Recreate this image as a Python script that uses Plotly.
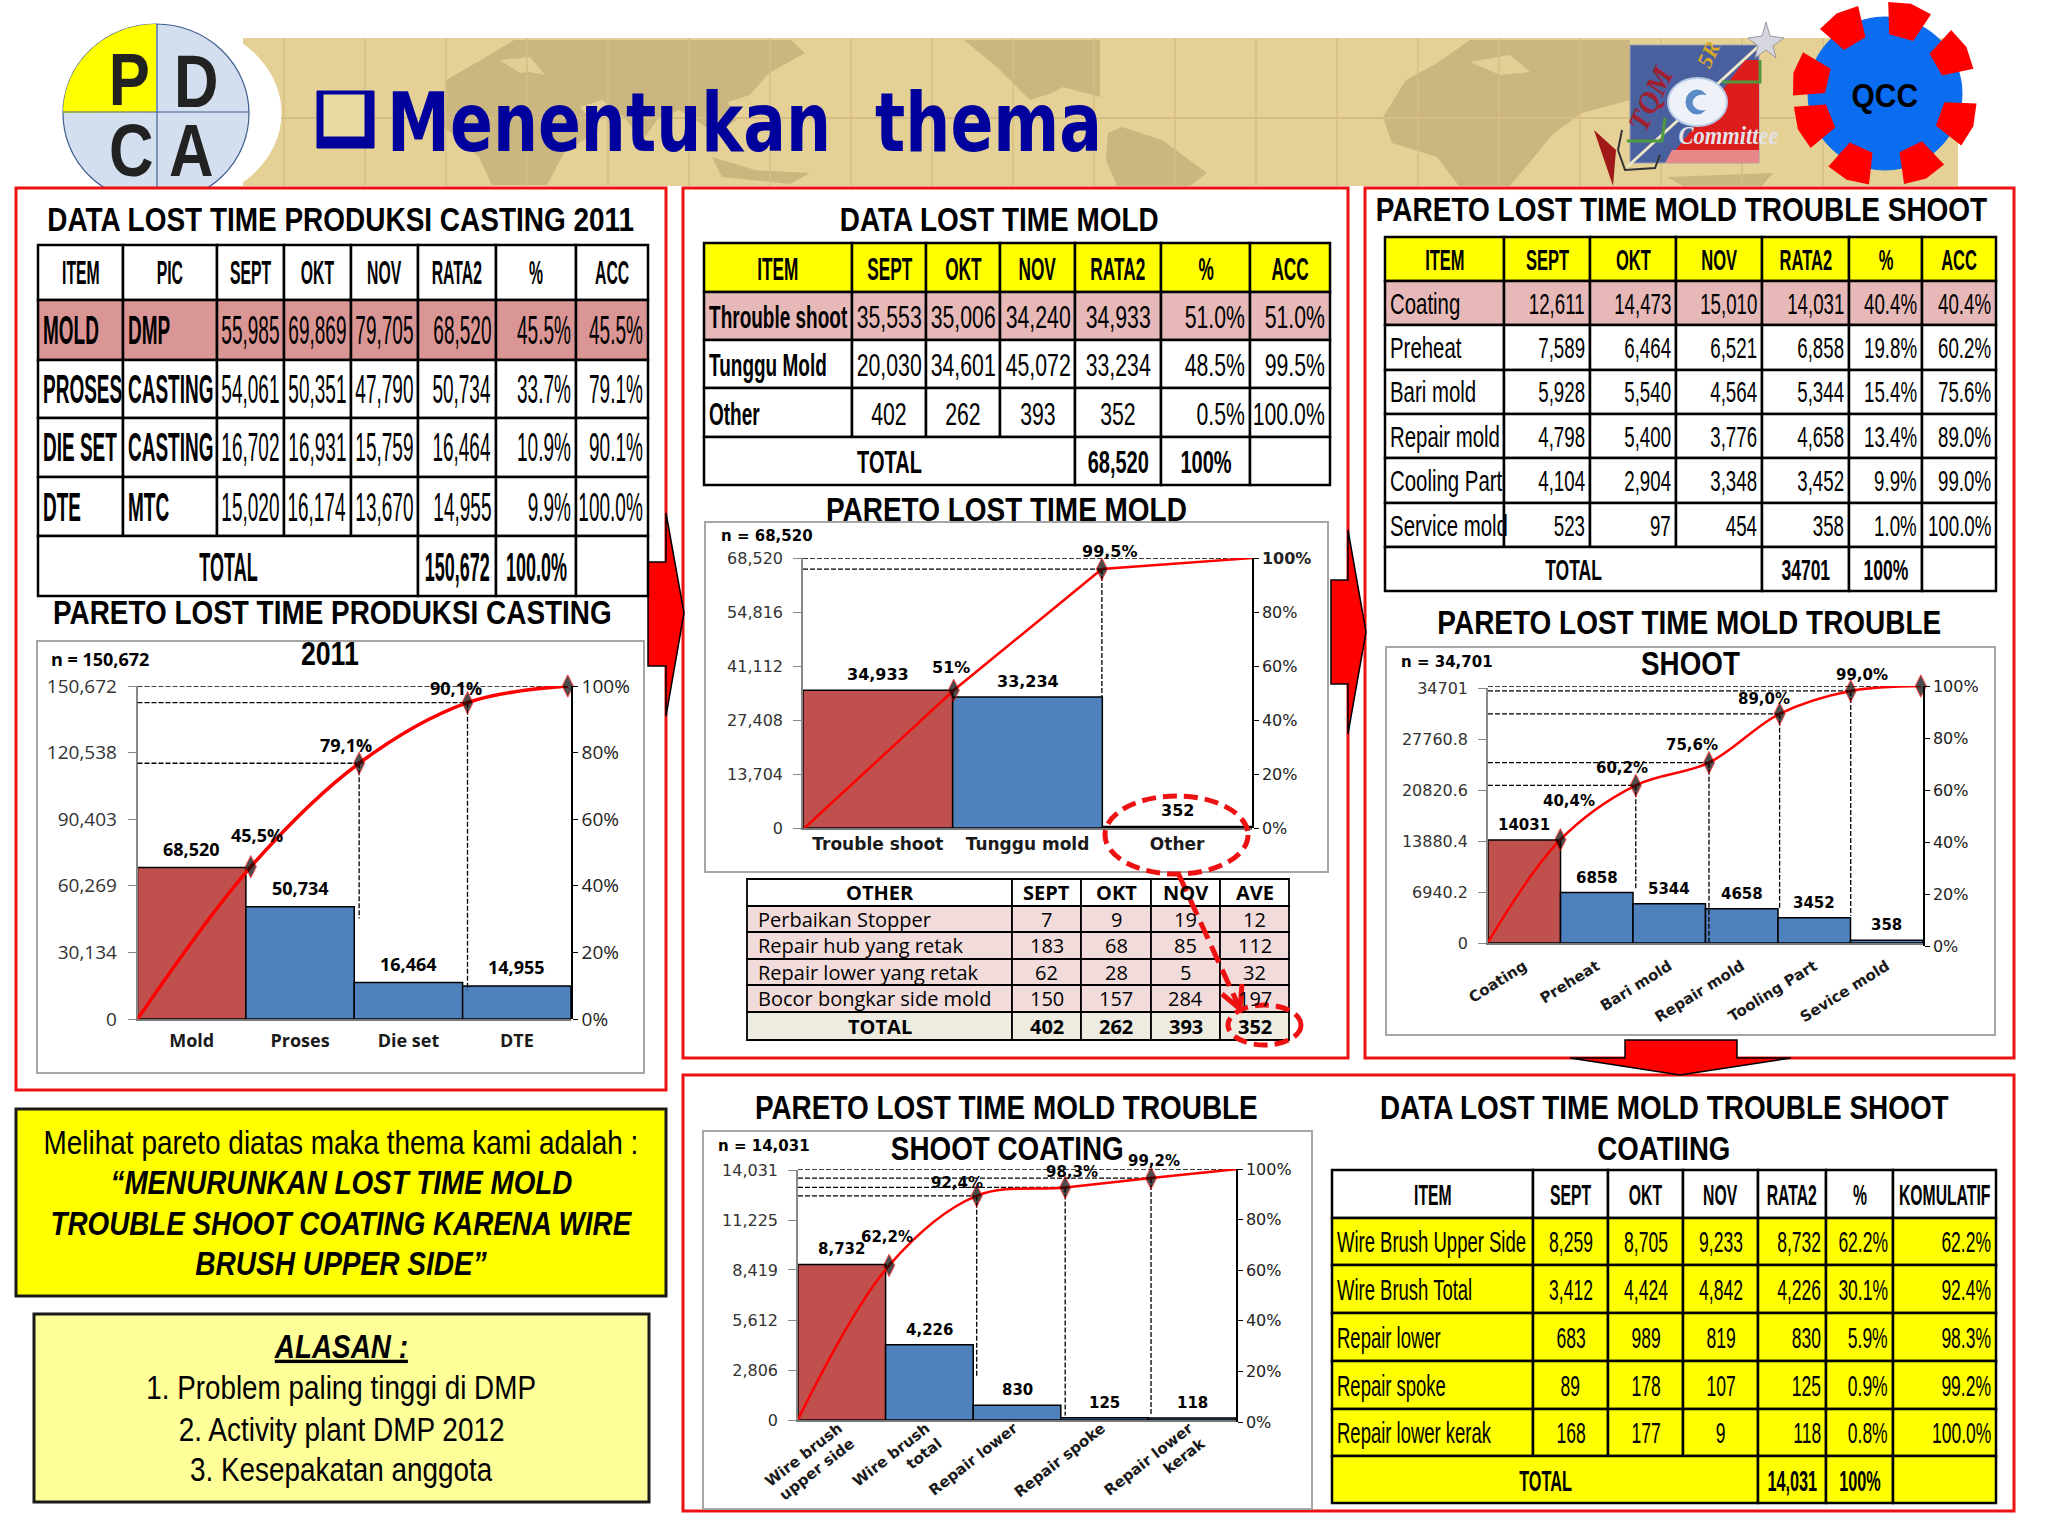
import json
import math
import plotly.graph_objects as go

W, H = 2048, 1536
ARIAL = "Liberation Sans"
OPEN = "Open Sans"
DEJA = "DejaVu Sans"

# pareto 1
p1_cats = ["Mold", "Proses", "Die set", "DTE"]
p1_vals = [68520, 50734, 16464, 14955]
p1_bar_text = ["68,520", "50,734", "16,464", "14,955"]
p1_ticks = [0, 30134, 60269, 90403, 120538, 150672]
p1_tick_text = ["0", "30,134", "60,269", "90,403", "120,538", "150,672"]
p1_cum_x = [-0.5, 0.545, 1.545, 2.545, 3.47]
p1_cum = [0, 45.7, 76.8, 95, 100]
p1_cum_text = ["45,5%", "79,1%", "90,1%"]
p1_drop = [30.2, 8.6]

# pareto 2
p2_cats = ["Trouble shoot", "Tunggu mold", "Other"]
p2_vals = [34933, 33234, 352]
p2_bar_text = ["34,933", "33,234", "352"]
p2_ticks = [0, 13704, 27408, 41112, 54816, 68520]
p2_tick_text = ["0", "13,704", "27,408", "41,112", "54,816", "68,520"]
p2_cum_x = [-0.49, 0.507, 1.497, 2.507]
p2_cum = [0, 51, 95.9, 100]
p2_cum_text = ["51%", "99,5%"]
p2_drop = [48.6]

# pareto 3
p3_cats = ["Coating", "Preheat", "Bari mold", "Repair mold", "Tooling Part", "Sevice mold"]
p3_vals = [14031, 6858, 5344, 4658, 3452, 358]
p3_bar_text = ["14031", "6858", "5344", "4658", "3452", "358"]
p3_ticks = [0, 6940.2, 13880.4, 20820.6, 27760.8, 34701]
p3_tick_text = ["0", "6940.2", "13880.4", "20820.6", "27760.8", "34701"]
p3_cum_x = [-0.5, 0.498, 1.538, 2.548, 3.522, 4.503, 5.47]
p3_cum = [1.5, 40.9, 61.8, 70.5, 89.3, 98.1, 100]
p3_cum_text = ["40,4%", "60,2%", "75,6%", "89,0%", "99,0%"]
p3_drop = [21.7, 1.5, 14, 11.5]

# pareto 4
p4_cats = ["Wire brush<br>upper side", "Wire brush<br>total", "Repair lower", "Repair spoke", "Repair lower<br>kerak"]
p4_vals = [8732, 4226, 830, 125, 118]
p4_bar_text = ["8,732", "4,226", "830", "125", "118"]
p4_ticks = [0, 2806, 5612, 8419, 11225, 14031]
p4_tick_text = ["0", "2,806", "5,612", "8,419", "11,225", "14,031"]
p4_cum_x = [-0.5, 0.54, 1.54, 2.55, 3.53, 4.52]
p4_cum = [1, 61.9, 89.4, 92.7, 96.4, 100]
p4_cum_text = ["62,2%", "92,4%", "98,3%", "99,2%"]
p4_drop = [17.9, 2.6, 2.6]

pct_ticks = [0, 20, 40, 60, 80, 100]
pct_tick_text = ["0%", "20%", "40%", "60%", "80%", "100%"]

# tables
t1_head = ["ITEM", "PIC", "SEPT", "OKT", "NOV", "RATA2", "%", "ACC"]
t1_rows = [
    ["MOLD", "DMP", "55,985", "69,869", "79,705", "68,520", "45.5%", "45.5%"],
    ["PROSES", "CASTING", "54,061", "50,351", "47,790", "50,734", "33.7%", "79.1%"],
    ["DIE SET", "CASTING", "16,702", "16,931", "15,759", "16,464", "10.9%", "90.1%"],
    ["DTE", "MTC", "15,020", "16,174", "13,670", "14,955", "9.9%", "100.0%"],
]
t1_total = ["TOTAL", "150,672", "100.0%", ""]

t2_head = ["ITEM", "SEPT", "OKT", "NOV", "RATA2", "%", "ACC"]
t2_rows = [
    ["Throuble shoot", "35,553", "35,006", "34,240", "34,933", "51.0%", "51.0%"],
    ["Tunggu Mold", "20,030", "34,601", "45,072", "33,234", "48.5%", "99.5%"],
    ["Other", "402", "262", "393", "352", "0.5%", "100.0%"],
]
t2_total = ["TOTAL", "68,520", "100%", ""]

t3_head = ["ITEM", "SEPT", "OKT", "NOV", "RATA2", "%", "ACC"]
t3_rows = [
    ["Coating", "12,611", "14,473", "15,010", "14,031", "40.4%", "40.4%"],
    ["Preheat", "7,589", "6,464", "6,521", "6,858", "19.8%", "60.2%"],
    ["Bari mold", "5,928", "5,540", "4,564", "5,344", "15.4%", "75.6%"],
    ["Repair mold", "4,798", "5,400", "3,776", "4,658", "13.4%", "89.0%"],
    ["Cooling Part", "4,104", "2,904", "3,348", "3,452", "9.9%", "99.0%"],
    ["Service mold", "523", "97", "454", "358", "1.0%", "100.0%"],
]
t3_total = ["TOTAL", "34701", "100%", ""]

t4_head = ["ITEM", "SEPT", "OKT", "NOV", "RATA2", "%", "KOMULATIF"]
t4_rows = [
    ["Wire Brush Upper Side", "8,259", "8,705", "9,233", "8,732", "62.2%", "62.2%"],
    ["Wire Brush Total", "3,412", "4,424", "4,842", "4,226", "30.1%", "92.4%"],
    ["Repair lower", "683", "989", "819", "830", "5.9%", "98.3%"],
    ["Repair spoke", "89", "178", "107", "125", "0.9%", "99.2%"],
    ["Repair lower kerak", "168", "177", "9", "118", "0.8%", "100.0%"],
]
t4_total = ["TOTAL", "14,031", "100%", ""]

other_head = ["OTHER", "SEPT", "OKT", "NOV", "AVE"]
other_rows = [
    ["Perbaikan Stopper", "7", "9", "19", "12"],
    ["Repair hub yang retak", "183", "68", "85", "112"],
    ["Repair lower yang retak", "62", "28", "5", "32"],
    ["Bocor bongkar side mold", "150", "157", "284", "197"],
]
other_total = ["TOTAL", "402", "262", "393", "352"]

shapes = []
anns = []
stretch = {}  # annotation index -> condensed look of the original slide text


def X(x):
    return x / W


def Y(y):
    return 1 - y / H


def rect(x0, y0, x1, y1, fill="rgba(0,0,0,0)", line="black", lw=1.5, layer="below"):
    shapes.append(dict(type="rect", xref="paper", yref="paper", x0=X(x0), x1=X(x1), y0=Y(y0), y1=Y(y1),
                       fillcolor=fill, line=dict(color=line, width=lw), layer=layer))


def ellipse(x0, y0, x1, y1, fill="rgba(0,0,0,0)", line="black", lw=1, dash="solid", layer="below"):
    shapes.append(dict(type="circle", xref="paper", yref="paper", x0=X(x0), x1=X(x1), y0=Y(y0), y1=Y(y1),
                       fillcolor=fill, line=dict(color=line, width=lw, dash=dash), layer=layer))


def poly(pts, fill, line="rgba(0,0,0,0)", lw=0, layer="below", close=True, dash="solid"):
    d = "M" + " L".join(f"{X(a):.5f},{Y(b):.5f}" for a, b in pts) + (" Z" if close else "")
    shapes.append(dict(type="path", xref="paper", yref="paper", path=d, fillcolor=fill,
                       line=dict(color=line, width=lw, dash=dash), layer=layer))


def text(x, y, s, size, font=ARIAL, color="black", anchor="center", bold=False, sx=None, sy=None, w=None, angle=0):
    if bold:
        s = f"<b>{s}</b>"
    if sx or sy or w:
        stretch[len(anns)] = dict(sx=sx or 1, sy=sy or 1, w=w, anchor=anchor)
    anns.append(dict(x=X(x), y=Y(y), xref="paper", yref="paper", text=s, showarrow=False, textangle=angle,
                     xanchor=anchor, yanchor="middle", font=dict(size=size, family=font, color=color)))


def draw_table(cols, rows_y, head, body, total=None, spans=None, size=25, head_size=25, head_fill="white",
               row_fills=None, aligns=None, total_fill=None, font=ARIAL, lw=2, pad=3,
               body_st=(None, None), head_st=(None, None), total_st=(None, None), first_sx=None, bold_cols=0):
    nrow = len(body)
    for c in range(len(head)):
        rect(cols[c], rows_y[0], cols[c + 1], rows_y[1], fill=head_fill, lw=lw)
        text((cols[c] + cols[c + 1]) / 2, (rows_y[0] + rows_y[1]) / 2, head[c], head_size, font=font, bold=True,
             sx=head_st[0], sy=head_st[1])
    for r in range(nrow):
        for c in range(len(head)):
            rect(cols[c], rows_y[r + 1], cols[c + 1], rows_y[r + 2], fill=row_fills[r], lw=lw)
            ym = (rows_y[r + 1] + rows_y[r + 2]) / 2
            al = aligns[c]
            if al == "left":
                xt = cols[c] + pad
            elif al == "right":
                xt = cols[c + 1] - pad
            else:
                xt = (cols[c] + cols[c + 1]) / 2
            text(xt, ym, body[r][c], size, font=font, anchor=al, bold=c < bold_cols,
                 sx=(first_sx if c == 0 and first_sx else body_st[0]), sy=body_st[1])
    if total:
        for s, (a, b) in zip(total, spans):
            rect(cols[a], rows_y[nrow + 1], cols[b], rows_y[nrow + 2], fill=total_fill or "white", lw=lw)
            if s:
                text((cols[a] + cols[b]) / 2, (rows_y[nrow + 1] + rows_y[nrow + 2]) / 2, s, head_size, font=font, bold=True,
                     sx=total_st[0], sy=total_st[1])


# banner
rect(243, 38, 1958, 186, fill="#E5D195", line="rgba(0,0,0,0)", lw=0)
land = [
    # old world, left tile
    [(446, 80), (481, 60), (514, 40), (791, 40), (805, 53), (769, 73), (750, 95), (728, 102), (736, 120), (723, 130), (706, 127),
     (679, 110), (657, 120), (643, 140), (624, 117), (602, 100), (580, 107), (599, 130), (564, 153), (547, 185), (492, 185), (479, 157), (444, 127)],
    # islands and australia, left tile
    [(712, 157), (755, 170), (810, 173), (790, 184), (722, 177)],
    # americas
    [(964, 40), (1100, 40), (1100, 97), (1063, 87), (1052, 93), (1030, 100), (997, 67)],
    [(1108, 133), (1122, 127), (1162, 140), (1207, 173), (1190, 186), (1117, 186), (1106, 160)],
    # old world, right tile
    [(1383, 117), (1406, 80), (1437, 63), (1470, 40), (1630, 40), (1630, 100), (1582, 113), (1554, 133), (1510, 186), (1459, 186),
     (1437, 157), (1392, 143)],
    [(1667, 177), (1773, 173), (1762, 186), (1683, 186)],
]
for blob in land:
    poly(blob, "#CBB680")
poly([(500, 60), (530, 57), (545, 75), (530, 72), (520, 73)], "#E2CF96")
poly([(1470, 62), (1510, 55), (1530, 72), (1500, 75)], "#E2CF96")
for gx in range(284, 1958, 81):
    shapes.append(dict(type="line", xref="paper", yref="paper", x0=X(gx), x1=X(gx), y0=Y(38), y1=Y(186),
                       line=dict(color="#D4BE85", width=1.5), layer="below"))
shapes.append(dict(type="line", xref="paper", yref="paper", x0=X(243), x1=X(1958), y0=Y(118), y1=Y(118),
                   line=dict(color="#D4BE85", width=2), layer="below"))

# pdca logo
ellipse(62, 22, 281, 204, fill="white", line="white")
ellipse(63, 24, 249, 203, fill="#D3DFEE", line="#3F5F8F", lw=1.2)
arc = [(156, 112)] + [(156 + 93 * math.cos(math.radians(a)), 113 + 89 * math.sin(math.radians(a))) for a in range(180, 271, 6)]
poly(arc, "#FFFF00")
shapes.append(dict(type="line", xref="paper", yref="paper", x0=X(157), x1=X(157), y0=Y(24), y1=Y(203), line=dict(color="#3F5F8F", width=1.2), layer="below"))
shapes.append(dict(type="line", xref="paper", yref="paper", x0=X(63), x1=X(249), y0=Y(112), y1=Y(112), line=dict(color="#3F5F8F", width=1.2), layer="below"))
for ch, cx, cy in [("P", 129, 80), ("D", 196, 82), ("C", 131, 151), ("A", 191, 151)]:
    text(cx, cy, ch, 70, color="#222222", bold=True, sx=0.88, sy=1.05)

# header title
rect(317, 91, 374, 148, line="#00009C", lw=1, fill="#00009C")
rect(323, 94, 365, 137, line="#00009C", lw=1, fill="#E9D9A2")
text(385, 122, "<b>Menentukan  thema</b>", 82, font=DEJA, color="#00009C", anchor="left", w=715)

# committee logo
rect(1630, 45, 1759, 163, fill="#4A5F9E", line="#9AA0B8", lw=1)
poly([(1759, 60), (1759, 163), (1665, 163), (1700, 120), (1745, 60)], "#DD1C1C")
poly([(1672, 150), (1759, 150), (1759, 163), (1665, 163)], "#E88888")
poly([(1762, 43), (1627, 167)], "rgba(0,0,0,0)", line="#EDE6C8", lw=3, close=False)
poly([(1760, 60), (1760, 82), (1722, 82)], "rgba(0,0,0,0)", line="#4E9A3C", lw=3, close=False)
poly([(1627, 141), (1662, 141), (1665, 118)], "rgba(0,0,0,0)", line="#4E9A3C", lw=3, close=False)
poly([(1622, 130), (1618, 150), (1625, 170), (1655, 168), (1660, 155)], "rgba(0,0,0,0)", line="#333333", lw=2, close=False)
ellipse(1668, 78, 1727, 126, fill="#EEF2F8", line="#B8CBE6", lw=2)
ellipse(1686, 90, 1708, 114, fill="#5A8AC8", line="#5A8AC8")
ellipse(1693, 95, 1712, 110, fill="#EEF2F8", line="#EEF2F8")
poly([(1766, 22), (1770, 36), (1784, 38), (1773, 46), (1776, 58), (1766, 50), (1755, 58), (1758, 46), (1748, 38), (1762, 36)], "#D6D6E0", line="#999999", lw=1)
poly([(1594, 130), (1613, 186), (1616, 150)], "#A01818")
text(1728, 136, "<i>Committee</i>", 25, font="Liberation Serif", color="#E2E2E8", bold=True, sx=0.9)
text(1650, 98, "<i>TQM</i>", 30, font="Liberation Serif", color="#A02030", bold=True, angle=-65)
text(1708, 54, "<i>5R</i>", 22, font="Liberation Serif", color="#D8A82A", bold=True, angle=-65)

# qcc badge
ellipse(1808, 17, 1962, 170, fill="#0A6CF0", line="#0A6CF0")
for ang in [16, 60, 110, 154, 204, 248, 283, 329]:
    seg = []
    for r, da in [(60, -12), (92, -14), (94, 0), (92, 14), (60, 12)]:
        a = math.radians(ang + da)
        seg.append((1885 + r * math.sin(a), 94 - r * math.cos(a)))
    poly(seg, "#FF0000")
text(1885, 95, "QCC", 34, bold=True, sx=0.88)

# red frames
for fr in [(16, 188, 666, 1090), (683, 188, 1348, 1058), (1365, 188, 2014, 1058), (683, 1075, 2014, 1511)]:
    rect(*fr, fill="white", line="#EE1111", lw=3)

# chart boxes
for bx in [(37, 641, 644, 1073), (705, 522, 1328, 872), (1386, 647, 1995, 1035), (703, 1131, 1312, 1509)]:
    rect(*bx, fill="white", line="#A6A6A6", lw=2)

# big arrows
poly([(648, 562), (666, 562), (666, 513), (684, 613), (666, 716), (666, 666), (648, 666)], "#FF0000", line="black", lw=1.5)
poly([(1331, 580), (1348, 580), (1348, 530), (1366, 632), (1348, 734), (1348, 684), (1331, 684)], "#FF0000", line="black", lw=1.5)
poly([(1625, 1040), (1737, 1040), (1737, 1058), (1791, 1058), (1680, 1075), (1570, 1058), (1625, 1058)], "#FF0000", line="black", lw=1.5)

# section titles
TS = 34
text(340, 219, "DATA LOST TIME PRODUKSI CASTING 2011", TS, bold=True, w=587)
text(332, 612, "PARETO LOST TIME PRODUKSI CASTING", TS, bold=True, w=559)
text(330, 653, "2011", TS, bold=True, w=58)
text(999, 219, "DATA LOST TIME MOLD", TS, bold=True, w=319)
text(1006, 509, "PARETO LOST TIME MOLD", TS, bold=True, w=361)
text(1681, 209, "PARETO LOST TIME MOLD TROUBLE SHOOT", TS, bold=True, w=612)
text(1689, 622, "PARETO LOST TIME MOLD TROUBLE", TS, bold=True, w=504)
text(1690, 663, "SHOOT", TS, bold=True, w=99)
text(1006, 1107, "PARETO LOST TIME MOLD TROUBLE", TS, bold=True, w=503)
text(1007, 1148, "SHOOT COATING", TS, bold=True, w=233)
text(1664, 1107, "DATA LOST TIME MOLD TROUBLE SHOOT", TS, bold=True, w=569)
text(1664, 1148, "COATIING", TS, bold=True, w=133)

# tables
draw_table([38, 123, 217, 284, 351, 418, 496, 576, 648], [245, 300, 360, 418, 477, 536, 596],
           t1_head, t1_rows, t1_total, [(0, 5), (5, 6), (6, 7), (7, 8)],
           row_fills=["#DA9694", "white", "white", "white"],
           aligns=["left", "left", "right", "right", "right", "right", "right", "right"], lw=2.5,
           body_st=(0.76, 1.6), head_st=(0.63, 1.33), total_st=(0.72, 1.65), bold_cols=2)
draw_table([704, 852, 926, 1000, 1075, 1161, 1250, 1330], [243, 292, 340, 388, 437, 485],
           t2_head, t2_rows, t2_total, [(0, 4), (4, 5), (5, 6), (6, 7)], head_fill="#FFFF00",
           row_fills=["#E6B8B7", "white", "white"],
           aligns=["left", "center", "center", "center", "center", "right", "right"], lw=2.5,
           body_st=(0.85, 1.28), head_st=(0.69, 1.28), total_st=(0.8, 1.28), first_sx=0.76, bold_cols=1)
draw_table([1385, 1504, 1590, 1676, 1762, 1849, 1922, 1996], [237, 281, 325, 370, 414, 458, 503, 547, 591],
           t3_head, t3_rows, t3_total, [(0, 4), (4, 5), (5, 6), (6, 7)], size=24, head_fill="#FFFF00",
           row_fills=["#E6B8B7"] + ["white"] * 5,
           aligns=["left", "right", "right", "right", "right", "right", "right"], lw=2.5,
           body_st=(0.78, 1.2), head_st=(0.66, 1.17), total_st=(0.7, 1.17), first_sx=0.85)
draw_table([1332, 1533, 1608, 1683, 1758, 1826, 1893, 1996], [1170, 1218, 1265, 1313, 1361, 1409, 1456, 1503],
           t4_head, t4_rows, t4_total, [(0, 4), (4, 5), (5, 6), (6, 7)], size=24,
           row_fills=["#FFFF00"] * 5, total_fill="#FFFF00",
           aligns=["left", "center", "center", "center", "right", "right", "right"], lw=2.5,
           body_st=(0.73, 1.25), head_st=(0.63, 1.2), total_st=(0.65, 1.2), first_sx=0.77)
draw_table([747, 1012, 1081, 1151, 1220, 1289], [879, 906, 932, 959, 985, 1012, 1040],
           other_head, other_rows, other_total, [(0, 1), (1, 2), (2, 3), (3, 4), (4, 5)], size=20, head_size=20, pad=9,
           row_fills=["#F2DCDB"] * 4, total_fill="#EEECE1", font=OPEN,
           aligns=["left", "center", "center", "center", "center"], lw=1.8)

# text boxes
rect(16, 1109, 666, 1296, fill="#FFFF00", line="#1A1A1A", lw=3)
text(341, 1142, "Melihat pareto diatas maka thema kami adalah :", 31, w=595, sy=1.05)
text(341, 1182, "<b><i>\u201cMENURUNKAN LOST TIME MOLD</i></b>", 31, w=462, sy=1.05)
text(341, 1223, "<b><i>TROUBLE SHOOT COATING KARENA WIRE</i></b>", 31, w=582, sy=1.05)
text(341, 1263, "<b><i>BRUSH UPPER SIDE\u201d</i></b>", 31, w=292, sy=1.05)
rect(34, 1314, 649, 1502, fill="#FFFF99", line="#1A1A1A", lw=3)
text(341, 1346, "<b><i><u>ALASAN :</u></i></b>", 32, w=134, sy=1.05)
text(341, 1387, "1. Problem paling tinggi di DMP", 31, w=390, sy=1.05)
text(341, 1429, "2. Activity plant DMP 2012", 31, w=326, sy=1.05)
text(341, 1469, "3. Kesepakatan anggota", 31, w=303, sy=1.05)

# n labels
text(49, 659, "n = 150,672", 18, font=OPEN, anchor="left", bold=True)
text(719, 536, "n = 68,520", 15, font=DEJA, anchor="left", bold=True)
text(1399, 662, "n = 34,701", 15, font=DEJA, anchor="left", bold=True)
text(716, 1146, "n = 14,031", 15, font=DEJA, anchor="left", bold=True)

fig = go.Figure()
layout_axes = {}


def add_pareto(n, x0, x1, y_top, y_bot, r_top, r_bot, cats, vals, bar_text, ticks, tick_text, cum_x, cum, cum_text,
               drop, offs, font, tick_size, lab_size, lab_up, tick_angle=0, line_shape="spline", lw=3,
               head_bold=False, cat_size=None, cat_standoff=3, cat_shift=0):
    xa, ya, yb = f"x{n}", f"y{n}", f"y{n + 4}"
    nb = len(vals)
    xs = list(range(nb))
    fig.add_trace(go.Bar(x=xs, y=vals, xaxis=xa, yaxis=ya, width=1,
                         marker=dict(color=["#C0504D"] + ["#4F81BD"] * (nb - 1), line=dict(color="black", width=1.5))))
    for i in range(nb):
        anns.append(dict(x=xs[i], y=vals[i], xref=xa, yref=ya, yshift=lab_up, text=f"<b>{bar_text[i]}</b>", showarrow=False,
                         yanchor="middle", font=dict(size=lab_size, family=font, color="black")))
    # dashed guides
    dash = dict(color="black", width=1.3, dash="5px,2px")
    for i in range(2, len(cum)):
        fig.add_trace(go.Scatter(x=[-0.5, cum_x[i]], y=[cum[i], cum[i]], xaxis=xa, yaxis=yb, mode="lines", line=dash, cliponaxis=False))
    for i in range(2, len(cum) - 1):
        fig.add_trace(go.Scatter(x=[cum_x[i], cum_x[i]], y=[cum[i], drop[i - 2]], xaxis=xa, yaxis=yb, mode="lines", line=dash, cliponaxis=False))
    fig.add_trace(go.Scatter(x=cum_x, y=cum, xaxis=xa, yaxis=yb, mode="lines+markers", cliponaxis=False,
                             line=dict(color="#FF0000", width=lw, shape=line_shape),
                             marker=dict(symbol="diamond-tall", color="black", size=[0] + [16] * (len(cum) - 1))))
    for i, lab in enumerate(cum_text):
        anns.append(dict(x=cum_x[i + 1], y=cum[i + 1], xref=xa, yref=yb, xshift=offs[i][0], yshift=offs[i][1],
                         text=f"<b>{lab}</b>", showarrow=False, yanchor="middle",
                         font=dict(size=lab_size, family=font, color="black")))
    xkey = "xaxis" if n == 1 else f"xaxis{n}"
    ykey = "yaxis" if n == 1 else f"yaxis{n}"
    layout_axes[xkey] = dict(domain=[X(x0), X(x1)], range=[-0.5, nb - 0.5], anchor=ya, tickvals=xs, automargin=False,
                             ticktext=[f"<b>{c}</b>" for c in cats], tickangle=tick_angle, ticks="",
                             tickfont=dict(size=cat_size or lab_size, family=font, color="#1A1A1A"), showline=True, linecolor="#777777",
                             linewidth=1.5, showgrid=False, zeroline=False, ticklabelstandoff=cat_standoff, ticklabelshift=cat_shift)
    layout_axes[ykey] = dict(domain=[Y(y_bot), Y(y_top)], range=[0, ticks[-1]], anchor=xa, tickvals=ticks, ticktext=tick_text,
                             tickfont=dict(size=tick_size, family=font, color="#333333"), ticks="outside", ticklen=8, tickcolor="#888888",
                             showline=True, linecolor="#888888", linewidth=1.5, showgrid=False, zeroline=False, automargin=False,
                             ticklabelstandoff=7)
    rtext = list(pct_tick_text)
    if head_bold:
        rtext[-1] = f"<b>{rtext[-1]}</b>"
    layout_axes[f"yaxis{n + 4}"] = dict(domain=[Y(r_bot), Y(r_top)], range=[0, 100], anchor=xa, side="right", tickvals=pct_ticks,
                                        ticktext=rtext, tickfont=dict(size=tick_size, family=font, color="#222222"), ticks="outside",
                                        ticklen=5, tickcolor="black", showline=True, linecolor="black", linewidth=1.5,
                                        showgrid=False, zeroline=False, automargin=False)


add_pareto(1, 137.5, 571, 686, 1019, 686, 1019, p1_cats, p1_vals, p1_bar_text, p1_ticks, p1_tick_text, p1_cum_x, p1_cum,
           p1_cum_text, p1_drop, [(6, 32), (-13, 18), (-12, 15)], OPEN, 19, 18, 19, lw=3.5, cat_standoff=5)
add_pareto(2, 803, 1252, 558, 828, 558, 828, p2_cats, p2_vals, p2_bar_text, p2_ticks, p2_tick_text, p2_cum_x, p2_cum,
           p2_cum_text, p2_drop, [(-3, 23), (8, 18)], DEJA, 16, 16, 16, line_shape="linear", lw=2.5, head_bold=True, cat_size=17, cat_standoff=0)
add_pareto(3, 1488, 1923, 688, 943, 686, 946, p3_cats, p3_vals, p3_bar_text, p3_ticks, p3_tick_text, p3_cum_x, p3_cum,
           p3_cum_text, p3_drop, [(9, 39), (-14, 17), (-17, 18), (-16, 15), (11, 16)], DEJA, 16, 15, 15, tick_angle=-32, lw=2.5, cat_standoff=7)
add_pareto(4, 798, 1236, 1170, 1420, 1169, 1422, p4_cats, p4_vals, p4_bar_text, p4_ticks, p4_tick_text, p4_cum_x, p4_cum,
           p4_cum_text, p4_drop, [(-2, 28), (-20, 13), (7, 15), (3, 17)], DEJA, 16, 15, 15, tick_angle=-38, lw=2.5, cat_standoff=-8, cat_shift=-3)

# red dashed callouts
ellipse(1105, 796, 1248, 874, line="#EE1111", lw=5, dash="14px,7px", layer="above")
ellipse(1228, 1005, 1301, 1045, line="#EE1111", lw=5, dash="14px,7px", layer="above")
poly([(1179, 875), (1240, 1009)], "rgba(0,0,0,0)", line="#EE1111", lw=5, layer="above", close=False, dash="18px,8px")
poly([(1222, 994), (1240, 1009), (1242, 984)], "rgba(0,0,0,0)", line="#EE1111", lw=5, layer="above", close=False)

fig.update_layout(width=W, height=H, margin=dict(l=0, r=0, t=0, b=0), paper_bgcolor="white", plot_bgcolor="rgba(0,0,0,0)",
                  showlegend=False, shapes=shapes, annotations=anns, **layout_axes)

# the slide's type is condensed and tall, no installed font has that, so squeeze the annotations
squeeze = """
document.body.style.margin = '0';
var st = %s;
document.querySelectorAll('g.annotation').forEach(function (g) {
  var e = st[g.getAttribute('data-index')];
  if (!e) return;
  var t = g.querySelector('text.annotation-text');
  var b = t.getBBox();
  var sx = e.w ? e.w / b.width : e.sx;
  var px = e.anchor === 'left' ? b.x : e.anchor === 'right' ? b.x + b.width : b.x + b.width / 2;
  var py = b.y + b.height / 2;
  t.setAttribute('transform', 'translate(' + px + ',' + py + ') scale(' + sx + ',' + e.sy + ') translate(' + (-px) + ',' + (-py) + ')');
});
""" % json.dumps(stretch)
fig.write_html("out.html", config={"displayModeBar": False}, post_script=squeeze)
